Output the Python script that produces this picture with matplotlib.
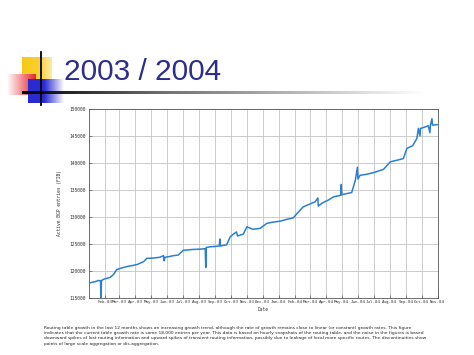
import matplotlib
matplotlib.use("Agg")
import matplotlib.pyplot as plt
import numpy as np
from matplotlib.colors import LinearSegmentedColormap
import datetime as dt

# ---------------- data ----------------
dates = [
    "2003-01-02", "2003-01-10", "2003-01-15", "2003-01-20", "2003-01-24", "2003-01-25", "2003-01-26",
    "2003-02-01", "2003-02-06", "2003-02-12", "2003-02-18", "2003-02-24", "2003-03-05", "2003-03-15",
    "2003-03-22", "2003-03-28", "2003-04-04", "2003-04-10", "2003-04-17", "2003-04-23", "2003-05-05",
    "2003-05-18", "2003-05-25", "2003-05-26", "2003-05-28", "2003-06-06", "2003-06-13", "2003-06-22",
    "2003-07-02", "2003-07-10", "2003-07-20", "2003-08-03", "2003-08-13", "2003-08-14",
    "2003-08-15", "2003-08-22", "2003-09-01", "2003-09-09", "2003-09-10", "2003-09-11",
    "2003-09-23", "2003-09-30", "2003-10-06", "2003-10-12", "2003-10-14", "2003-10-25",
    "2003-11-01", "2003-11-12", "2003-11-26", "2003-12-09", "2003-12-20",
    "2004-01-04", "2004-01-15", "2004-01-29", "2004-02-05", "2004-02-17", "2004-02-28", "2004-03-11",
    "2004-03-16", "2004-03-17", "2004-03-25", "2004-04-05", "2004-04-15", "2004-04-29",
    "2004-04-30", "2004-05-01", "2004-05-10", "2004-05-20", "2004-05-27", "2004-05-31",
    "2004-06-01", "2004-06-05", "2004-06-18", "2004-07-01", "2004-07-20", "2004-08-02",
    "2004-08-15", "2004-08-27", "2004-09-03", "2004-09-14", "2004-09-22", "2004-09-25",
    "2004-09-28", "2004-09-29", "2004-10-06", "2004-10-14", "2004-10-17", "2004-10-18",
    "2004-10-21", "2004-10-22", "2004-10-31",
]
fib_entries = [
    117700, 117900, 118000, 118200, 118150, 115000, 118200,
    118500, 118600, 118800, 119300, 120200, 120500, 120750,
    120900, 121000, 121150, 121400, 121700, 122300, 122350,
    122500, 122800, 121850, 122500, 122650, 122800, 122900,
    123800, 123850, 123950, 124000, 124100, 120600,
    124300, 124450, 124500, 124600, 125900, 124600,
    124800, 126300, 126800, 127200, 126450, 126800,
    128150, 127700, 127850, 128780, 129000,
    129200, 129500, 129820, 130600, 131850, 132300, 132800,
    133500, 132000, 132600, 133100, 133700, 134000,
    136000, 134100, 134300, 134500, 136800, 139200,
    137000, 137700, 137900, 138200, 138800, 140200,
    140500, 140800, 142700, 143200, 144500, 146400,
    145000, 146400, 146600, 146900, 145600, 146980,
    148200, 147000, 147100,
]
y_ticks = [115000, 120000, 125000, 130000, 135000, 140000, 145000, 150000]
month_ticks = ["2003-02-01", "2003-03-01", "2003-04-01", "2003-05-01", "2003-06-01",
               "2003-07-01", "2003-08-01", "2003-09-01", "2003-10-01", "2003-11-01",
               "2003-12-01", "2004-01-01", "2004-02-01", "2004-03-01", "2004-04-01",
               "2004-05-01", "2004-06-01", "2004-07-01", "2004-08-01", "2004-09-01",
               "2004-10-01", "2004-11-01"]
x_range = ["2003-01-02", "2004-11-01"]

title_text = "2003 / 2004"
caption = ("Routing table growth in the last 12 months shows an increasing growth trend, although the rate of growth remains close to linear (or constant) growth rates. This figure\n"
           "indicates that the current table growth rate is some 18,000 entries per year. This data is based on hourly snapshots of the routing table, and the noise in the figures is based\n"
           "downward spikes of lost routing information and upward spikes of transient routing information, possibly due to leakage of local more specific routes. The discontinuities show\n"
           "points of large scale aggregation or dis-aggregation.")

# ---------------- figure ----------------
W, H = 474, 355
fig = plt.figure(figsize=(W / 100, H / 100), dpi=100)
fig.patch.set_facecolor("white")

deco = fig.add_axes([0, 0, 1, 1])
deco.set_xlim(0, W)
deco.set_ylim(H, 0)
deco.axis("off")

def grad(x0, x1, y0, y1, cmap, z):
    g = np.linspace(0, 1, 256).reshape(1, -1)
    deco.imshow(g, cmap=cmap, extent=(x0, x1, y1, y0), aspect="auto",
                zorder=z, interpolation="bilinear")

grad(22, 52, 57, 80, LinearSegmentedColormap.from_list("y", [(0, "#f7c815"), (0.55, "#f8cf2e"), (1, "#fbeaa6")]), 1)
grad(7, 36, 74, 95, LinearSegmentedColormap.from_list("r", ["#ffffff", "#e8232c"]), 2)
grad(28, 64, 79, 103, LinearSegmentedColormap.from_list("b", [(0, "#2a2ad2"), (0.45, "#2a2ad2"), (1, "#ffffff")]), 3)
grad(22, 425, 91.6, 93.8, LinearSegmentedColormap.from_list("l", [(0, "#000000"), (0.35, "#707070"), (1, "#ffffff")]), 4)
deco.plot([40.7, 40.7], [52, 105], color="black", lw=1.3, zorder=5)
deco.set_xlim(0, W)
deco.set_ylim(H, 0)

deco.text(64, 80, title_text, fontsize=21.5, family="Liberation Sans",
          color="#2d2d8c", ha="left", va="baseline", zorder=6)

deco.text(44, 325.5, caption, fontsize=3.2, family="DejaVu Sans", color="#222222",
          ha="left", va="top", linespacing=1.45, zorder=6)

# ---------------- chart ----------------
L, R, T, B = 89, 437.7, 109, 297.7
ax = fig.add_axes([L / W, (H - B) / H, (R - L) / W, (B - T) / H])
x = [dt.datetime.strptime(d, "%Y-%m-%d") for d in dates]
ax.plot(x, fib_entries, color="#2a7fd2", lw=1.1, zorder=3)

ax.set_xlim(dt.datetime.strptime(x_range[0], "%Y-%m-%d"),
            dt.datetime.strptime(x_range[1], "%Y-%m-%d"))
ax.set_ylim(y_ticks[0], y_ticks[-1])
ax.set_yticks(y_ticks)
ax.set_yticklabels([str(v) for v in y_ticks])
mt = [dt.datetime.strptime(d, "%Y-%m-%d") for d in month_ticks]
ax.set_xticks(mt)
ax.set_xticklabels([d.strftime("%b-%y") for d in mt])

ax.grid(True, color="#c4c4c4", lw=0.6)
ax.set_axisbelow(True)
for s in ax.spines.values():
    s.set_color("#555555")
    s.set_linewidth(0.6)
ax.tick_params(direction="in", length=2, width=0.5, colors="#555555",
               labelcolor="#333333", pad=2.5)
ax.tick_params(axis="y", labelsize=3.3)
ax.tick_params(axis="x", labelsize=2.95, pad=1.8)
for lab in ax.get_xticklabels() + ax.get_yticklabels():
    lab.set_family("DejaVu Sans Mono")
ax.set_ylabel("Active BGP entries (FIB)", fontsize=3.3, family="DejaVu Sans Mono",
              color="#333333", labelpad=5)
ax.set_xlabel("Date", fontsize=3.3, family="DejaVu Sans Mono", color="#333333", labelpad=2)

fig.savefig("out.png", dpi=100)
